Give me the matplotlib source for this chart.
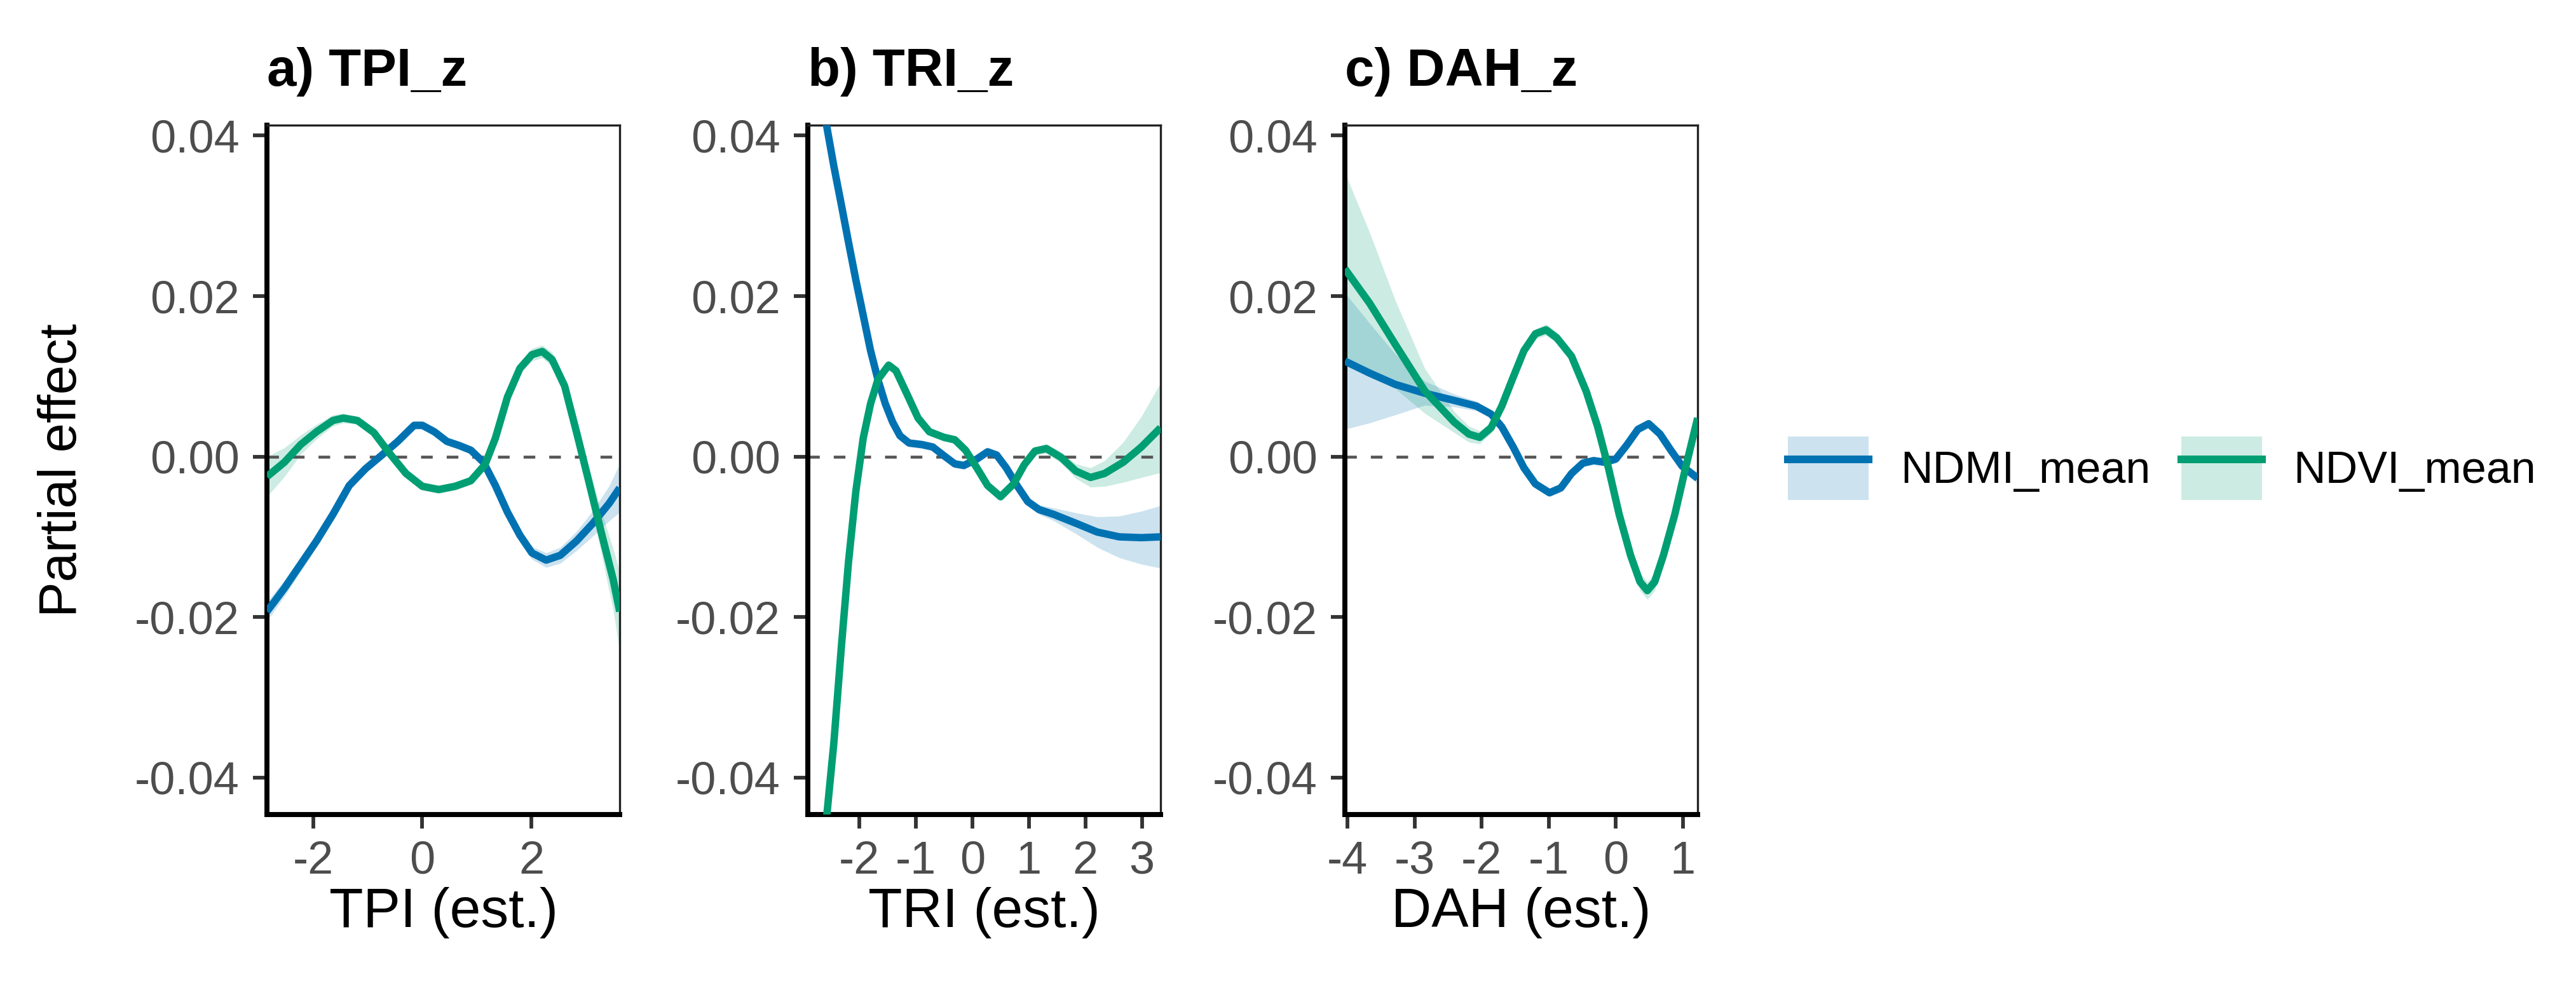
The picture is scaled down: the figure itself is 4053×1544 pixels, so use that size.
import numpy as np
import matplotlib
matplotlib.use("Agg")
import matplotlib.pyplot as plt
from matplotlib.patches import Patch
from matplotlib.lines import Line2D
from matplotlib.legend_handler import HandlerTuple

plt.rcParams['font.family'] = ['Liberation Sans', 'DejaVu Sans']
plt.rcParams['axes.unicode_minus'] = False

# ---------------- data ----------------
titles = ["a) TPI_z", "b) TRI_z", "c) DAH_z"]
xlabels = ["TPI (est.)", "TRI (est.)", "DAH (est.)"]
series_names = ["NDMI_mean", "NDVI_mean"]
colors = ["#0072B2", "#009E73"]

xlims = [(-2.85, 3.62), (-2.91, 3.33), (-4.04, 1.22)]
xticks = [[-2, 0, 2], [-2, -1, 0, 1, 2, 3], [-4, -3, -2, -1, 0, 1]]
yticks = [-0.04, -0.02, 0.00, 0.02, 0.04]
ylim = (-0.0446, 0.0413)

# Panel a: TPI
tpi_ndmi_x = [-2.85, -2.53, -2.23, -1.94, -1.64, -1.34, -1.04, -0.74, -0.45, -0.15, 0.0, 0.22, 0.45,
              0.67, 0.89, 1.12, 1.34, 1.56, 1.79, 2.01, 2.27, 2.53, 2.83, 3.13, 3.43, 3.62]
tpi_ndmi_y = [-0.0193, -0.0164, -0.0134, -0.0105, -0.0072, -0.0036, -0.0015, 0.0002, 0.0019, 0.0039,
              0.0039, 0.0031, 0.0019, 0.0014, 0.0008, -0.0007, -0.0036, -0.0069, -0.0098, -0.0120,
              -0.0129, -0.0123, -0.0105, -0.0083, -0.0058, -0.0039]
tpi_ndmi_se = [0.0012, 0.0010, 0.0009, 0.0008, 0.0007, 0.0006, 0.0005, 0.0005, 0.0005, 0.0005,
               0.0005, 0.0005, 0.0005, 0.0005, 0.0005, 0.0005, 0.0005, 0.0006, 0.0007, 0.0008,
               0.0009, 0.0010, 0.0012, 0.0016, 0.0022, 0.0030]

tpi_ndvi_x = [-2.85, -2.53, -2.23, -1.94, -1.64, -1.45, -1.19, -0.89, -0.60, -0.30, 0.0, 0.30, 0.60,
              0.89, 1.15, 1.34, 1.56, 1.79, 2.01, 2.20, 2.38, 2.61, 2.83, 3.05, 3.28, 3.50, 3.62]
tpi_ndvi_y = [-0.0025, -0.0007, 0.0015, 0.0031, 0.0045, 0.0048, 0.0045, 0.0030, 0.0004, -0.0021,
              -0.0037, -0.0041, -0.0037, -0.0030, -0.0010, 0.0023, 0.0074, 0.0110, 0.0127, 0.0131,
              0.0121, 0.0088, 0.0030, -0.0030, -0.0094, -0.0153, -0.0193]
tpi_ndvi_se = [0.0025, 0.0018, 0.0012, 0.0009, 0.0007, 0.0006, 0.0005, 0.0005, 0.0005, 0.0005,
               0.0005, 0.0005, 0.0005, 0.0005, 0.0005, 0.0006, 0.0007, 0.0007, 0.0008, 0.0008,
               0.0009, 0.0010, 0.0013, 0.0018, 0.0026, 0.0038, 0.0050]

# Panel b: TRI
tri_ndmi_x = [-2.66, -2.45, -2.32, -2.19, -2.06, -1.93, -1.80, -1.67, -1.54, -1.41, -1.28, -1.12,
              -0.89, -0.70, -0.50, -0.31, -0.15, 0.08, 0.27, 0.43, 0.60, 0.79, 0.98, 1.18, 1.44,
              1.83, 2.21, 2.60, 2.99, 3.33]
tri_ndmi_y = [0.0445, 0.0362, 0.0315, 0.0267, 0.0220, 0.0176, 0.0132, 0.0096, 0.0066, 0.0043,
              0.0026, 0.0017, 0.0015, 0.0012, 0.0001, -0.0009, -0.0011, -0.0003, 0.0006, 0.0002,
              -0.0014, -0.0036, -0.0056, -0.0066, -0.0072, -0.0083, -0.0094, -0.0100, -0.0101, -0.0100]
tri_ndmi_se = [0.0012, 0.0010, 0.0009, 0.0008, 0.0007, 0.0006, 0.0006, 0.0005, 0.0005, 0.0005,
               0.0005, 0.0005, 0.0005, 0.0005, 0.0005, 0.0005, 0.0005, 0.0005, 0.0005, 0.0005,
               0.0005, 0.0005, 0.0005, 0.0006, 0.0008, 0.0013, 0.0019, 0.0026, 0.0033, 0.0039]

tri_ndvi_x = [-2.62, -2.45, -2.32, -2.19, -2.06, -1.93, -1.80, -1.67, -1.48, -1.35, -1.15, -0.96,
              -0.76, -0.50, -0.31, -0.12, 0.08, 0.27, 0.50, 0.73, 0.92, 1.11, 1.31, 1.57, 1.83,
              2.09, 2.34, 2.67, 2.99, 3.33]
tri_ndvi_y = [-0.0480, -0.0357, -0.0240, -0.0131, -0.0043, 0.0023, 0.0066, 0.0096, 0.0114, 0.0107,
              0.0077, 0.0048, 0.0031, 0.0024, 0.0021, 0.0008, -0.0014, -0.0036, -0.0050, -0.0034,
              -0.0010, 0.0007, 0.0010, -0.0001, -0.0018, -0.0026, -0.0021, -0.0007, 0.0012, 0.0036]
tri_ndvi_se = [0.0015, 0.0012, 0.0010, 0.0008, 0.0007, 0.0006, 0.0005, 0.0005, 0.0005, 0.0005,
               0.0005, 0.0005, 0.0005, 0.0005, 0.0005, 0.0005, 0.0005, 0.0005, 0.0005, 0.0005,
               0.0005, 0.0005, 0.0006, 0.0007, 0.0009, 0.0012, 0.0016, 0.0025, 0.0038, 0.0056]

# Panel c: DAH
dah_ndmi_x = [-4.04, -3.67, -3.29, -2.85, -2.41, -2.08, -1.86, -1.70, -1.53, -1.37, -1.20, -0.99,
              -0.82, -0.66, -0.49, -0.33, -0.16, 0.0, 0.16, 0.33, 0.49, 0.66, 0.82, 0.99, 1.22]
dah_ndmi_y = [0.0119, 0.0104, 0.0090, 0.0079, 0.0070, 0.0063, 0.0053, 0.0037, 0.0012, -0.0014,
              -0.0034, -0.0045, -0.0039, -0.0021, -0.0008, -0.0005, -0.0007, -0.0003, 0.0014,
              0.0034, 0.0041, 0.0028, 0.0008, -0.0012, -0.0027]
dah_ndmi_se = [0.0085, 0.0062, 0.0038, 0.0015, 0.0008, 0.0006, 0.0005, 0.0005, 0.0005, 0.0005,
               0.0005, 0.0005, 0.0005, 0.0005, 0.0005, 0.0005, 0.0005, 0.0005, 0.0005, 0.0005,
               0.0005, 0.0005, 0.0005, 0.0006, 0.0007]

dah_ndvi_x = [-4.04, -3.67, -3.29, -2.85, -2.41, -2.19, -2.03, -1.86, -1.70, -1.53, -1.37, -1.20,
              -1.04, -0.88, -0.66, -0.44, -0.27, -0.11, 0.05, 0.22, 0.36, 0.47, 0.58, 0.71, 0.88,
              1.04, 1.22]
dah_ndvi_y = [0.0234, 0.0191, 0.0140, 0.0082, 0.0043, 0.0028, 0.0024, 0.0036, 0.0063, 0.0099,
              0.0132, 0.0153, 0.0158, 0.0148, 0.0125, 0.0081, 0.0037, -0.0014, -0.0072, -0.0123,
              -0.0156, -0.0167, -0.0156, -0.0123, -0.0072, -0.0014, 0.0048]
dah_ndvi_se = [0.0120, 0.0088, 0.0055, 0.0028, 0.0013, 0.0010, 0.0008, 0.0007, 0.0006, 0.0006,
               0.0006, 0.0006, 0.0007, 0.0007, 0.0007, 0.0007, 0.0007, 0.0008, 0.0009, 0.0010,
               0.0011, 0.0011, 0.0011, 0.0010, 0.0009, 0.0009, 0.0010]

panels = [
    [(tpi_ndmi_x, tpi_ndmi_y, tpi_ndmi_se), (tpi_ndvi_x, tpi_ndvi_y, tpi_ndvi_se)],
    [(tri_ndmi_x, tri_ndmi_y, tri_ndmi_se), (tri_ndvi_x, tri_ndvi_y, tri_ndvi_se)],
    [(dah_ndmi_x, dah_ndmi_y, dah_ndmi_se), (dah_ndvi_x, dah_ndvi_y, dah_ndvi_se)],
]

# ---------------- figure ----------------
W, H, DPI = 4053, 1544, 300
fig = plt.figure(figsize=(W / DPI, H / DPI), dpi=DPI)
fig.patch.set_facecolor("white")

lefts_px = [420, 1271, 2116]
width_px = 555
top_px, bottom_px = 197, 1282

tick_fs = 17.3
title_fs = 20
xlab_fs = 21
lw_line = 2.8

for i, left in enumerate(lefts_px):
    ax = fig.add_axes([left / W, 1 - bottom_px / H, width_px / W, (bottom_px - top_px) / H])
    for (xs, ys, se), col in zip(panels[i], colors):
        xs = np.asarray(xs); ys = np.asarray(ys); se = np.asarray(se)
        ax.fill_between(xs, ys - se, ys + se, color=col, alpha=0.2, linewidth=0, zorder=1)
    ax.axhline(0, color="#555555", lw=1.1, dashes=(4.0, 4.8), zorder=2)
    for (xs, ys, se), col in zip(panels[i], colors):
        ax.plot(xs, ys, color=col, lw=lw_line, zorder=3, solid_joinstyle="round",
                solid_capstyle="butt")
    ax.set_xlim(*xlims[i])
    ax.set_ylim(*ylim)
    ax.set_xticks(xticks[i])
    ax.set_xticklabels([str(t) for t in xticks[i]])
    ax.set_yticks(yticks)
    ax.set_yticklabels(["%.2f" % t for t in yticks])
    ax.tick_params(axis="both", which="major", length=5.3, width=1.4, color="#333333",
                   labelsize=tick_fs, labelcolor="#4D4D4D")
    ax.tick_params(axis="y", pad=5)
    ax.tick_params(axis="x", pad=4.5)
    for s in ["top", "right"]:
        ax.spines[s].set_linewidth(0.8)
        ax.spines[s].set_color("#222222")
    for s in ["left", "bottom"]:
        ax.spines[s].set_linewidth(1.9)
        ax.spines[s].set_color("black")
    ax.set_xlabel(xlabels[i], fontsize=xlab_fs, color="black", labelpad=1.5)
    ax.text(0.0, 1.057, titles[i], transform=ax.transAxes, fontsize=title_fs,
            fontweight="bold", ha="left", va="baseline")

fig.text(98 / W, 1 - 740 / H, "Partial effect", rotation=90, fontsize=title_fs,
         ha="center", va="center")

# legend
leg_fs = 16.8
handles = []
for col in colors:
    handles.append((Patch(facecolor=col, alpha=0.2, edgecolor="none"),
                    Line2D([], [], color=col, lw=2.9)))
fig.legend(handles, series_names, handler_map={tuple: HandlerTuple(ndivide=1, pad=0)},
           loc="center left", bbox_to_anchor=(2813 / W, 1 - 737 / H), ncol=2,
           frameon=False, fontsize=leg_fs, borderpad=0, borderaxespad=0,
           handlelength=1.82, handleheight=1.82, handletextpad=0.71, columnspacing=0.69)

fig.savefig("out.png", dpi=DPI, facecolor="white")
